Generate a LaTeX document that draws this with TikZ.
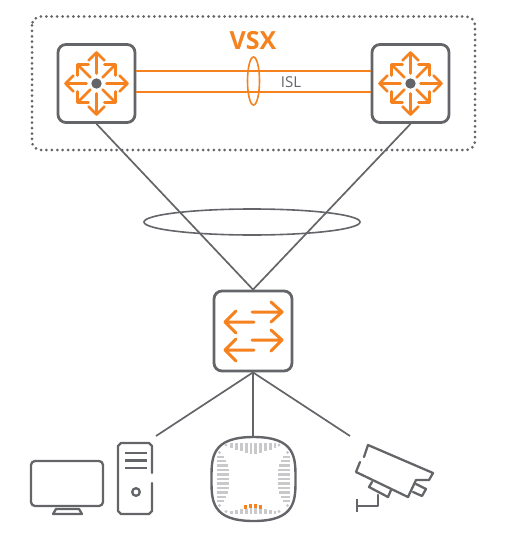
\documentclass[tikz,border=0pt]{standalone}
\usepackage{fontspec}
\setmainfont{Open Sans}
\definecolor{hpgray}{HTML}{646569}
\definecolor{hporange}{HTML}{F5821F}
\definecolor{hplight}{HTML}{C9C9CB}
\tikzset{
  devbox/.style={draw=hpgray,line width=2.8pt,rounded corners=8pt,fill=white,minimum width=77pt,minimum height=78pt,inner sep=0pt},
  link/.style={draw=hpgray,line width=1.7pt},
  isl/.style={draw=hporange,line width=1.8pt},
  icon/.style={draw=hporange,line width=2.6pt,line cap=round,line join=round},
  swicon/.style={icon,line width=3pt},
  thing/.style={draw=hpgray,line width=2.3pt,line cap=round,line join=round},
  apbar/.style={draw=hplight,line width=2.8pt},
  apled/.style={draw=hporange,line width=2.8pt},
  pics/router/.style={code={
    \foreach \a in {0,90,180,270}{
      \begin{scope}[rotate=\a]
        \draw[icon] (10,0) -- (31,0) (23,-8) -- (31,0) -- (23,8);
        \draw[icon] (6,6) -- (19,19) (8,19) -- (19,19) -- (19,8);
      \end{scope}}
    \fill[hpgray] (0,0) circle (5.2pt);
  }}
}
\begin{document}
\begin{tikzpicture}[x=1pt,y=-1pt]
\useasboundingbox (0,0) rectangle (506,543);
\draw[hpgray,line width=3pt,line cap=round,dash pattern=on 0pt off 5.4pt,rounded corners=9pt] (32,16.5) rectangle (475,150);

\node[devbox] (left) at (96.5,83.5) {};
\node[devbox] (right) at (410.5,83.5) {};
\node[devbox,minimum width=78pt,minimum height=80pt] (mid) at (253,331) {};
\coordinate (pc) at (156,436);
\coordinate (ap) at (253,437);
\coordinate (cam) at (350,436);

\draw[isl] (left.east |- 0,71) -- (right.west |- 0,71);
\draw[isl] (left.east |- 0,92) -- (right.west |- 0,92);
\draw[hporange,line width=1.6pt] (253.5,81) ellipse [x radius=6,y radius=24];
\node[text=hporange,font=\fontsize{25}{27}\selectfont\bfseries] (vsx) at (253,40.5) {VSX};
\node[text=hpgray,font=\fontsize{15}{17}\selectfont] (islt) at (291,82) {ISL};

\draw[link] (left.south) -- (mid.north);
\draw[link] (right.south) -- (mid.north);
\draw[hpgray,line width=1.6pt] (252,222) ellipse [x radius=108,y radius=13];
\draw[link] (mid.south) -- (pc);
\draw[link] (mid.south) -- (ap);
\draw[link] (mid.south) -- (cam);

\pic at (96.5,83.5) {router};
\pic at (410.5,83.5) {router};

% switch icon
\draw[swicon] (252,312) -- (282,312) (271,302) -- (282,312) -- (271,322);
\draw[swicon] (254,322) -- (225,322) (236,311) -- (225,322) -- (236,333);
\draw[swicon] (252,340) -- (282,340) (271,330) -- (282,340) -- (271,351);
\draw[swicon] (254,350) -- (225,350) (236,339) -- (225,350) -- (236,361);

% monitor and tower
\draw[thing] (31,465) arc[start angle=180,end angle=270,radius=4] -- (99,461) arc[start angle=270,end angle=360,radius=4] -- (103,502) arc[start angle=0,end angle=90,radius=4] -- (35,506) arc[start angle=90,end angle=180,radius=4] -- cycle;
\draw[thing] (53,514) -- (56,509) -- (79,509) -- (82,514) -- cycle;
\draw[thing] (152,473) -- (152,446) -- (149,443) -- (121,443) -- (118,446) -- (118,511) -- (121,514) -- (149,514) -- (152,511) -- (152,483);
\draw[thing,line cap=butt] (125,453) -- (147,453) (125,460.5) -- (147,460.5) (125,468) -- (147,468);
\draw[thing] (136,492) circle (3.8);

% access point
\draw[hpgray,line width=2.4pt] (211.5,479) .. controls (211.5,458) and (211,437) .. (253.5,437)
  .. controls (296,437) and (295.5,458) .. (295.5,479)
  .. controls (295.5,500) and (296,521) .. (253.5,521)
  .. controls (211,521) and (211.5,500) .. (211.5,479) -- cycle;
\foreach \k/\h in {-4.5/2.5,-3.5/3.5,-2.5/4.2,-1.5/5,-0.5/5.5,0.5/5.5,1.5/5,2.5/4.2,3.5/3.5,4.5/2.5}{
  \draw[apbar] (253.3+\k*4.8,442.5) -- +(0,2*\h);
}
\fill[hplight] (226,445) circle (1.6pt) (279,445) circle (1.6pt);
\foreach \k/\h in {-4.5/3,-3.5/4,-2.5/4.5,-1.5/5,-0.5/5.5,0.5/5.5,1.5/5,2.5/4.5,3.5/4,4.5/3}{
  \draw[apbar] (253.3+\k*4.8,513.5) -- +(0,-\h);
}
\fill[hplight] (226,511.5) circle (1.6pt) (279,511.5) circle (1.6pt);
\foreach \y/\w in {-22/8,-18/10,-13.5/12,-9/13,-4.5/13,0/13,4.5/13,9/13,13.5/12,18/10,22/8}{
  \draw[apbar] (217,479+\y) -- +(\w-1,0);
  \draw[apbar] (290,479+\y) -- +(-\w+1,0);
}
\fill[hplight] (219.5,452.5) circle (1.6pt) (287.5,452.5) circle (1.6pt) (219.5,505.5) circle (1.6pt) (287.5,505.5) circle (1.6pt);
\foreach \x/\y in {245.7/506.5,250.3/505.5,255.3/505.5,260.3/506.5}{
  \draw[apled] (\x,\y-2) -- (\x,\y+2);
}

% camera
\draw[thing] (364,457) -- (368,445) -- (433,473) -- (429,480) -- (416,480) -- (408,497) -- (356,472) -- (360,462);
\draw[thing] (416,484) -- (426,489) -- (422,496) -- (413,492);
\draw[thing] (372,482) -- (369,487) -- (388,497) -- (391,490);
\draw[thing] (378,495) -- (378,506) -- (357,506);
\draw[thing,line cap=butt] (357,499) -- (357,512);
\end{tikzpicture}
\end{document}
